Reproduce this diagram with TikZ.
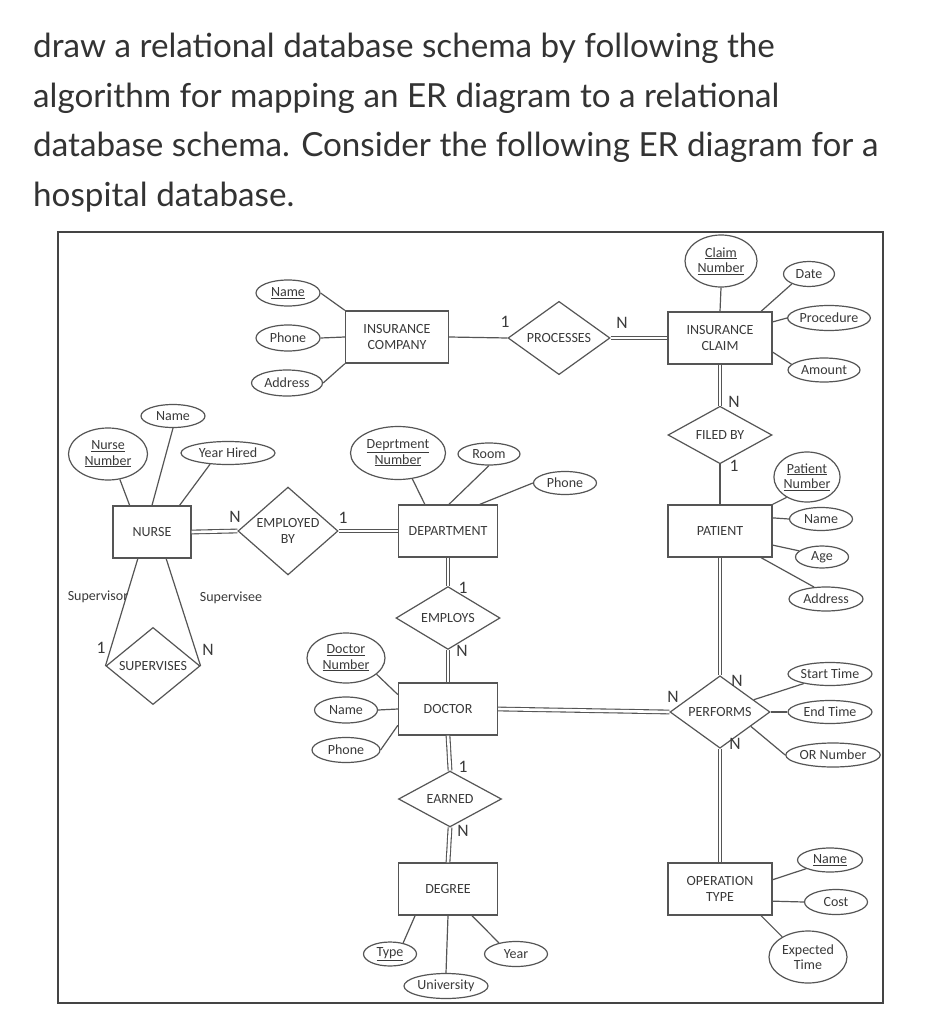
\documentclass[tikz,border=0pt]{standalone}
\usepackage{fontspec}
\setmainfont{Carlito}
\newfontfamily\hdrfont{Lato}
\usetikzlibrary{shapes.geometric}
\definecolor{linec}{HTML}{555555}
\definecolor{txtc}{HTML}{3A3A3A}
\definecolor{hdrc}{HTML}{333333}
\definecolor{framec}{HTML}{444444}
\begin{document}
\begin{tikzpicture}[x=1pt,y=-1pt,
  every node/.style={text=txtc},
  ln/.style={draw=linec, line width=1.2pt},
  dbl/.style={draw=linec, line width=1.1pt, double=white, double distance=2.6pt},
  ent/.style={rectangle, draw=linec, line width=1.3pt, minimum width=#1, minimum height=52pt, inner sep=0pt, align=center, font=\fontsize{14}{16}\selectfont},
  ent/.default=104pt,
  attr/.style 2 args={ellipse, draw=linec, line width=1.2pt, minimum width=#1, minimum height=#2, inner sep=0pt, align=center, font=\fontsize{14}{15.5}\selectfont},
  rel/.style 2 args={diamond, draw=linec, line width=1.2pt, minimum width=#1, minimum height=#2, inner sep=0pt, align=center, font=\fontsize{14}{16}\selectfont},
  card/.style={inner sep=0pt, font=\fontsize{17.5}{17.5}\selectfont},
  lbl/.style={inner sep=0pt, font=\fontsize{14}{15}\selectfont},
  hdr/.style={anchor=base west, inner sep=0pt, text=hdrc, font=\hdrfont\fontsize{33.2}{40}\selectfont},
  frame/.style={draw=framec, line width=2pt}
]
\useasboundingbox (0,0) rectangle (933,1024);
\fill[white] (0,0) rectangle (933,1024);

% header
\node[hdr] (h1) at (33,58) {draw a relational database schema by following the};
\node[hdr] (h2) at (33,108) {algorithm for mapping an ER diagram to a relational};
\node[hdr] (h3) at (33,157) {database schema. Consider the following ER diagram for a};
\node[hdr] (h4) at (33,207) {hospital database.};

% frame
\draw[frame] (58,232) rectangle (883,1003);

% insurance company
\node[ent=103pt] (ic) at (397,337) {INSURANCE\\COMPANY};
\node[attr={64pt}{26pt}] (icname) at (288,293) {\underline{Name}};
\node[attr={64pt}{26pt}] (icphone) at (288,338) {Phone};
\node[attr={71pt}{26pt}] (icaddr) at (287,383) {Address};
\node[rel={102pt}{52pt}] (proc) at (559,338) {PROCESSES};

% insurance claim
\node[ent] (icl) at (720,338) {INSURANCE\\CLAIM};
\node[attr={72pt}{52pt}] (clnum) at (721,261) {\underline{Claim}\\\underline{Number}};
\node[attr={51pt}{25pt}] (cldate) at (809,274) {Date};
\node[attr={82pt}{25pt}] (clproc) at (829,318) {Procedure};
\node[attr={72pt}{24pt}] (clamt) at (824,370) {Amount};
\node[rel={104pt}{52pt}] (filed) at (720,435) {FILED BY};

% patient
\node[ent] (pat) at (720,531) {PATIENT};
\node[attr={64pt}{50pt}] (patnum) at (807,477) {\underline{Patient}\\\underline{Number}};
\node[attr={63pt}{23pt}] (patname) at (821,519) {Name};
\node[attr={53pt}{22pt}] (patage) at (822,557) {Age};
\node[attr={74pt}{24pt}] (pataddr) at (826,599) {Address};

% performs
\node[rel={100pt}{50pt}] (perf) at (720,712) {PERFORMS};
\node[attr={84pt}{23pt}] (st) at (830,674) {Start Time};
\node[attr={84pt}{23pt}] (et) at (830,712) {End Time};
\node[attr={93pt}{24pt}] (orn) at (833,755) {OR Number};

% operation type
\node[ent] (op) at (720,889) {OPERATION\\TYPE};
\node[attr={65pt}{24pt}] (opname) at (830,860) {\underline{Name}};
\node[attr={63pt}{25pt}] (opcost) at (836,902) {Cost};
\node[attr={78pt}{52pt}] (opexp) at (808,957) {Expected\\Time};

% nurse
\node[ent=78pt] (nurse) at (152,532) {NURSE};
\node[attr={79pt}{52pt}] (nnum) at (108,454) {\underline{Nurse}\\\underline{Number}};
\node[attr={64pt}{23pt}] (nname) at (173,416) {Name};
\node[attr={94pt}{23pt}] (nyear) at (228,453) {Year Hired};
\node[rel={100pt}{62pt}] (empby) at (288,531) {EMPLOYED\\BY};
\node[rel={94pt}{62pt}] (sup) at (153,666) {SUPERVISES};

% department
\node[ent=99pt] (dept) at (448,531) {DEPARTMENT};
\node[attr={95pt}{53pt}] (dnum) at (398,453) {\underline{Deprtment}\\\underline{Number}};
\node[attr={62pt}{22pt}] (droom) at (489,454) {Room};
\node[attr={63pt}{23pt}] (dphone) at (565,483) {Phone};
\node[rel={104pt}{50pt}] (emps) at (448,618) {EMPLOYS};

% doctor
\node[ent=99pt] (doc) at (448,709) {DOCTOR};
\node[attr={78pt}{50pt}] (docnum) at (346,658) {\underline{Doctor}\\\underline{Number}};
\node[attr={63pt}{26pt}] (docname) at (346,710) {Name};
\node[attr={68pt}{25pt}] (docphone) at (346,750) {Phone};
\node[rel={103pt}{48pt}] (earned) at (450,799) {EARNED};

% degree
\node[ent=99pt] (deg) at (448,889) {DEGREE};
\node[attr={53pt}{24pt}] (dtype) at (390,954) {\underline{Type}};
\node[attr={84pt}{25pt}] (duni) at (446,986) {University};
\node[attr={63pt}{25pt}] (dyear) at (516,954) {Year};

% ---- connectors ----
\draw[ln] (icname.east) -- (ic.north west);
\draw[ln] (icphone.east) -- (ic.west);
\draw[ln] (icaddr.east) -- (ic.south west);
\draw[ln] (ic.east) -- (proc.west);
\draw[dbl] (proc.east) -- (icl.west);

\draw[ln] (clnum.south) -- (icl.north);
\draw[ln] (icl.33) -- (cldate.210);
\draw[ln] (icl.17) -- (clproc.west);
\draw[ln] (icl.-15) -- (clamt.170);
\draw[dbl] (icl.south) -- (filed.north);
\draw[ln] (filed.south) -- (pat.north);

\draw[ln] (pat.north east) -- (patnum.225);
\draw[ln] (pat.14) -- (patname.west);
\draw[ln] (pat.-15) -- (patage.165);
\draw[ln] (pat.-33) -- (pataddr.135);
\draw[dbl] (pat.south) -- (perf.north);

\draw[ln] (perf.20) -- (st.200);
\draw[ln] (perf.east) -- (et.west);
\draw[ln] (perf.-25) -- (orn.180);
\draw[dbl] (perf.south) -- (op.north);
\draw[dbl] (doc.east) -- (perf.west);

\draw[ln] (op.10) -- (opname.200);
\draw[ln] (op.-13) -- (opcost.west);
\draw[ln] (op.-33) -- (opexp.142);

\draw[ln] (nnum.-65) -- (nurse.130);
\draw[ln] (nname.south) -- (nurse.north);
\draw[ln] (nyear.212) -- (nurse.44);
\draw[dbl] (nurse.east) -- (empby.west);
\draw[dbl] (empby.east) -- (dept.west);
\draw[ln] (nurse.-118) -- (sup.west);
\draw[ln] (nurse.-62) -- (sup.east);

\draw[ln] (dnum.-61) -- (dept.131);
\draw[ln] (droom.south) -- (dept.88);
\draw[ln] (dphone.west) -- (dept.40);
\draw[dbl] (dept.south) -- (emps.north);
\draw[dbl] (emps.south) -- (doc.north);

\draw[ln] (docnum.-28) -- (doc.164);
\draw[ln] (docname.east) -- (doc.west);
\draw[ln] (docphone.east) -- (doc.198);
\draw[dbl] (doc.south) -- (earned.north);
\draw[dbl] (earned.south) -- (deg.north);

\draw[ln] (deg.219) -- (dtype.40);
\draw[ln] (deg.south) -- (duni.north);
\draw[ln] (deg.-48) -- (dyear.147);

% ---- cardinalities ----
\node[card] (c1) at (505,322) {1};
\node[card] (c2) at (622,323) {N};
\node[card] (c3) at (734,402) {N};
\node[card] (c4) at (734,466) {1};
\node[card] (c5) at (235,517) {N};
\node[card] (c6) at (343,518) {1};
\node[card] (c7) at (463,588) {1};
\node[card] (c8) at (462,651) {N};
\node[card] (c9) at (463,767) {1};
\node[card] (c10) at (463,831) {N};
\node[card] (c11) at (737,681) {N};
\node[card] (c12) at (673,697) {N};
\node[card] (c13) at (735,744) {N};
\node[card] (c14) at (101,648) {1};
\node[card] (c15) at (208,650) {N};

\node[lbl] (lsup) at (98,597) {Supervisor};
\node[lbl] (lsee) at (231,598) {Supervisee};
\end{tikzpicture}
\end{document}
